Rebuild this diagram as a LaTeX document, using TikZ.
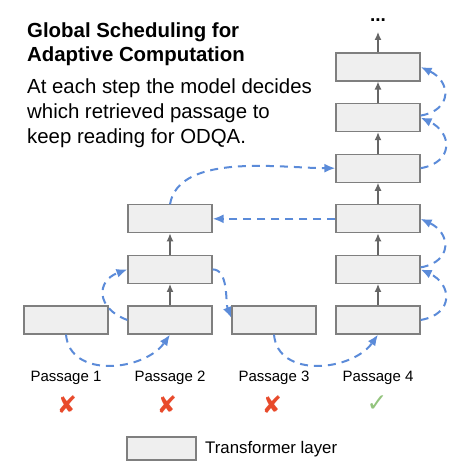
\documentclass[tikz,border=0pt]{standalone}
\usepackage{fontspec}
\setmainfont{Liberation Sans}
\newfontfamily\symfont{DejaVu Sans}
\usetikzlibrary{arrows.meta}
\definecolor{boxfill}{HTML}{EFEFEF}
\definecolor{boxline}{HTML}{7F7F7F}
\definecolor{grayarr}{HTML}{666666}
\definecolor{bluearr}{HTML}{5B8BD9}
\definecolor{xred}{HTML}{E84A2B}
\definecolor{okgreen}{HTML}{93C47D}
\tikzset{
  layer/.style={draw=boxline, fill=boxfill, line width=1.2pt, minimum width=84pt, minimum height=28pt, inner sep=0pt},
  flow/.style={draw=grayarr, line width=1.3pt, -{Latex[length=8pt,width=7pt]}},
  hop/.style={draw=bluearr, line width=2pt, dash pattern=on 8pt off 6pt, -{Latex[length=11pt,width=9pt]}},
  plabel/.style={font=\fontsize{15}{18}\selectfont, anchor=base},
  nomark/.style={text=xred, font=\symfont\fontsize{24}{26}\selectfont},
}
\begin{document}
\begin{tikzpicture}[x=1pt,y=1pt]
\useasboundingbox (0,0) rectangle (474,474);
\fill[white] (0,0) rectangle (474,474);
% title and text
\node[anchor=base west, inner sep=0pt, font=\fontsize{20.4}{24}\selectfont\bfseries] (t1) at (27,436) {Global Scheduling for};
\node[anchor=base west, inner sep=0pt, font=\fontsize{20.4}{24}\selectfont\bfseries] (t2) at (27,412) {Adaptive Computation};
\node[anchor=base west, inner sep=0pt, font=\fontsize{20.4}{25}\selectfont] (b1) at (27,380) {At each step the model decides};
\node[anchor=base west, inner sep=0pt, font=\fontsize{20.4}{25}\selectfont] (b2) at (27,355) {which retrieved passage to};
\node[anchor=base west, inner sep=0pt, font=\fontsize{20.4}{25}\selectfont] (b3) at (27,330) {keep reading for ODQA.};
% boxes
\node[layer] (a0) at (66,154) {};
\node[layer] (b0) at (170,154) {};
\node[layer] (b1x) at (170,204.6) {};
\node[layer] (b2x) at (170,255.2) {};
\node[layer] (c0) at (274,154) {};
\node[layer] (d0) at (378,154) {};
\node[layer] (d1) at (378,204.6) {};
\node[layer] (d2) at (378,255.2) {};
\node[layer] (d3) at (378,305.8) {};
\node[layer] (d4) at (378,356.4) {};
\node[layer] (d5) at (378,407) {};
\node[inner sep=0pt, font=\fontsize{19}{20}\selectfont\bfseries] (dots) at (378,454) {...};
\coordinate (top) at (378,442);
% gray arrows
\draw[flow] (b0.north) -- (b1x.south);
\draw[flow] (b1x.north) -- (b2x.south);
\draw[flow] (d0.north) -- (d1.south);
\draw[flow] (d1.north) -- (d2.south);
\draw[flow] (d2.north) -- (d3.south);
\draw[flow] (d3.north) -- (d4.south);
\draw[flow] (d4.north) -- (d5.south);
\draw[flow] (d5.north) -- (top);
% blue hops
\draw[hop] (a0.south) to[out=-85, in=-125, looseness=1.1] (b0.south);
\draw[hop] (b0.west) to[out=160, in=200, looseness=1.7] (b1x.west);
\draw[hop] (b1x.east) to[out=0, in=112, looseness=0.8] ([yshift=2pt]c0.west);
\draw[hop] (c0.south) to[out=-85, in=-125, looseness=1.1] (d0.south);
\draw[hop] (d0.east) to[out=10, in=-25, looseness=1.75] (d1.east);
\draw[hop] ([yshift=2pt]d1.east) to[out=10, in=-25, looseness=1.75] (d2.east);
\draw[hop] (d2.west) -- (b2x.east);
\draw[hop] (b2x.north) to[out=80, in=180, looseness=0.8] (d3.west);
\draw[hop] (d3.east) to[out=10, in=-25, looseness=1.75] (d4.east);
\draw[hop] ([yshift=2pt]d4.east) to[out=10, in=-25, looseness=1.75] (d5.east);
% passage labels
\node[plabel] (p1) at (66,92) {Passage 1};
\node[plabel] (p2) at (170,92) {Passage 2};
\node[plabel] (p3) at (274,92) {Passage 3};
\node[plabel] (p4) at (378,92) {Passage 4};
\node[nomark] (x1) at (67,69.5) {✘};
\node[nomark] (x2) at (167,69.5) {✘};
\node[nomark] (x3) at (272,69.5) {✘};
\node[text=okgreen, font=\symfont\fontsize{25}{26}\selectfont] (ok) at (377,70) {✓};
% legend
\node[layer, minimum width=69pt, minimum height=23pt] (leg) at (161.5,25.5) {};
\node[anchor=base west, inner sep=0pt, font=\fontsize{16.8}{20}\selectfont] (legt) at (205,20) {Transformer layer};
\end{tikzpicture}
\end{document}
